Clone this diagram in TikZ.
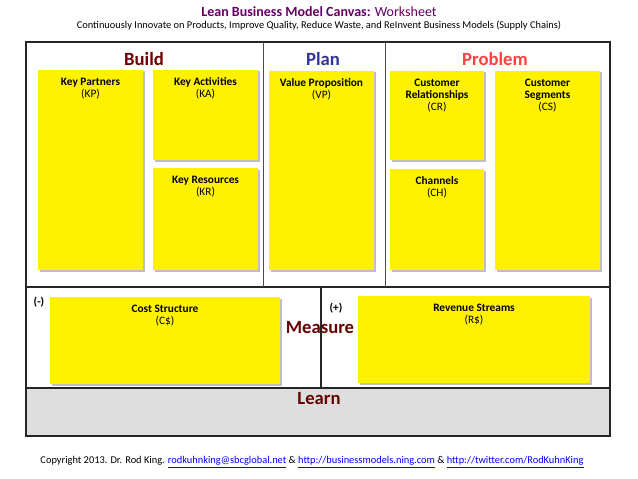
\documentclass[tikz,border=0pt]{standalone}
\usepackage{fontspec}
\setmainfont{Carlito}
\begin{document}
\begin{tikzpicture}[x=0.75pt,y=-0.75pt,
  lab/.style={anchor=north,align=center,font=\fontsize{8.5}{10}\selectfont\bfseries},
  big/.style={font=\fontsize{14}{14}\selectfont\bfseries},
  frame/.style={draw=black!85,line width=1.2pt}]
\useasboundingbox (0,0) rectangle (638,478);
\fill[white] (0,0) rectangle (638,478);
\node (title) at (319,12) {\fontsize{10.5}{12}\selectfont\color[HTML]{660066}\textbf{Lean Business Model Canvas:} Worksheet};
\node (sub) at (319,26) {\fontsize{7.8}{9}\selectfont Continuously Innovate on Products, Improve Quality, Reduce Waste, and ReInvent Business Models (Supply Chains)};
\fill[black!13] (26,388) rectangle (610,436);
\draw[frame] (26,42) rectangle (610,436);
\draw[frame] (26,287) -- (610,287);
\draw[frame] (26,388) -- (610,388);
\draw[black!70,line width=0.6pt] (263,42) -- (263,287) (385,42) -- (385,287);
\draw[frame] (321,287) -- (321,388);
\foreach \n/\a/\b/\c/\d/\t in {kp/38/70/143/270/{Key Partners\\[-1pt]\mdseries(KP)},
 ka/153/70/258/160/{Key Activities\\[-1pt]\mdseries(KA)},
 kr/153/168/258/270/{Key Resources\\[-1pt]\mdseries(KR)},
 vp/269/71/374/270/{Value Proposition\\[-1pt]\mdseries(VP)},
 cr/390/71/484/160/{Customer\\[-1pt]Relationships\\[-1pt]\mdseries(CR)},
 ch/390/169/484/270/{Channels\\[-1pt]\mdseries(CH)},
 cs/495/71/600/270/{Customer\\[-1pt]Segments\\[-1pt]\mdseries(CS)},
 cost/50/297/280/384/{Cost Structure\\[-1pt]\mdseries(C\$)},
 rev/358/296/590/383/{Revenue Streams\\[-1pt]\mdseries(R\$)}}{
  \fill[black!25] (\a+1.5,\b+1.5) rectangle (\c+1.5,\d+1.5);
  \fill[yellow] (\a,\b) rectangle (\c,\d);
  \node[lab] (\n) at ({(\a+\c)/2},\b+3) {\t};
}
\node[big,text=red!45!black] (build) at (144,59) {Build};
\node[big,text=blue!50!black!80] (plan) at (323,59) {Plan};
\node[big,text=red!75!white] (prob) at (495,59) {Problem};
\node[big,text=red!40!black] (meas) at (320,328) {Measure};
\node[big,text=red!40!black] (learn) at (319,399) {Learn};
\node[font=\fontsize{8.5}{10}\selectfont\bfseries] (minus) at (39,302) {(-)};
\node[font=\fontsize{8.5}{10}\selectfont\bfseries] (plus) at (336,308) {(+)};
\node (copy) at (312,462) {\fontsize{7.8}{9}\selectfont Copyright 2013. Dr. Rod King. \textcolor{blue}{\underline{rodkuhnking@sbcglobal.net}} \& \textcolor{blue}{\underline{http://businessmodels.ning.com}} \& \textcolor{blue}{\underline{http://twitter.com/RodKuhnKing}}};
\end{tikzpicture}
\end{document}
